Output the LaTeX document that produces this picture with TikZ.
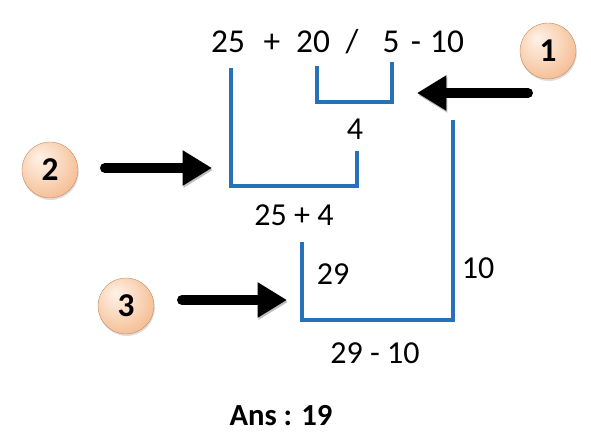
\documentclass[tikz,border=0pt]{standalone}
\usepackage{fontspec}
\setmainfont{Carlito}
\usepackage{tikz}
\usepackage{xcolor}
\definecolor{tblue}{RGB}{38,113,183}
\definecolor{peachL}{RGB}{254,242,232}
\definecolor{peachM}{RGB}{250,214,186}
\definecolor{peachD}{RGB}{241,172,124}
\usetikzlibrary{arrows.meta}
\usetikzlibrary{shadows}
\pgfdeclareradialshading{peachball}{\pgfpoint{-10bp}{12bp}}{color(0bp)=(peachL); color(18bp)=(peachM); color(40bp)=(peachD); color(50bp)=(peachD!85!black)}

\begin{document}
\begin{tikzpicture}[x=0.75pt, y=-0.75pt]
\tikzstyle{num} = [
  font=\fontsize{24}{28}\selectfont,
  inner sep=0pt,
  anchor=base
]
\tikzstyle{badge} = [
  shape=circle,
  minimum size=42pt,
  inner sep=0pt,
  draw=peachD!80!black,
  line width=0.3pt,
  shading=peachball,
  drop shadow={opacity=0.25, shadow xshift=0.6pt, shadow yshift=-1.5pt},
  font=\fontsize{25}{28}\selectfont\bfseries
]
\tikzstyle{bracket} = [
  draw = tblue,
  line width = 3pt
]
\tikzstyle{bigarrow} = [
  line width = 7.5pt,
  line cap = round,
  -{Triangle[length=22pt, width=25pt]},
  preaction={draw=black!25, transform canvas={xshift=0.8pt, yshift=-1.5pt}}
]

\useasboundingbox (0,0) rectangle (591,438);

% expression
\node[num, font=\fontsize{25}{28}\selectfont] (n25) at (228,53) {25};
\node[num, font=\fontsize{25}{28}\selectfont] (plus) at (272,53) {+};
\node[num, font=\fontsize{25}{28}\selectfont] (n20) at (313,53) {20};
\node[num, font=\fontsize{25}{28}\selectfont] (slash) at (352,53) {/};
\node[num, font=\fontsize{25}{28}\selectfont] (n5) at (391,53) {5};
\node[num, font=\fontsize{25}{28}\selectfont] (minus) at (416,53) {-};
\node[num, font=\fontsize{25}{28}\selectfont] (n10) at (447,53) {10};

% partial results
\node[num] (r4) at (355,140) {4};
\node[num] (r25p4) at (294,225) {25 + 4};
\node[num] (r29) at (333,284) {29};
\node[num] (r10) at (478,278) {10};
\node[num] (r29m10) at (375,363) {29 - 10};
\node[num, font=\fontsize{23}{26}\selectfont\bfseries] (ans) at (281,425) {Ans : 19};

% brackets
\draw[bracket] (317,66) -- (317,102) -- (392,102) -- (392,62);
\draw[bracket] (231,68) -- (231,186) -- (357,186) -- (357,151);
\draw[bracket] (302,242) -- (302,320) -- (453,320) -- (453,120);

% steps
\node[badge] (s1) at (548,51) {1};
\node[badge] (s2) at (50,170) {2};
\node[badge] (s3) at (126,306) {3};

\coordinate (a1s) at (528,93);
\coordinate (a1e) at (417,93);
\coordinate (a2s) at (105,168);
\coordinate (a2e) at (212,168);
\coordinate (a3s) at (182,300);
\coordinate (a3e) at (287,300);

\draw[bigarrow] (a1s) -- (a1e);
\draw[bigarrow] (a2s) -- (a2e);
\draw[bigarrow] (a3s) -- (a3e);

\end{tikzpicture}
\end{document}
